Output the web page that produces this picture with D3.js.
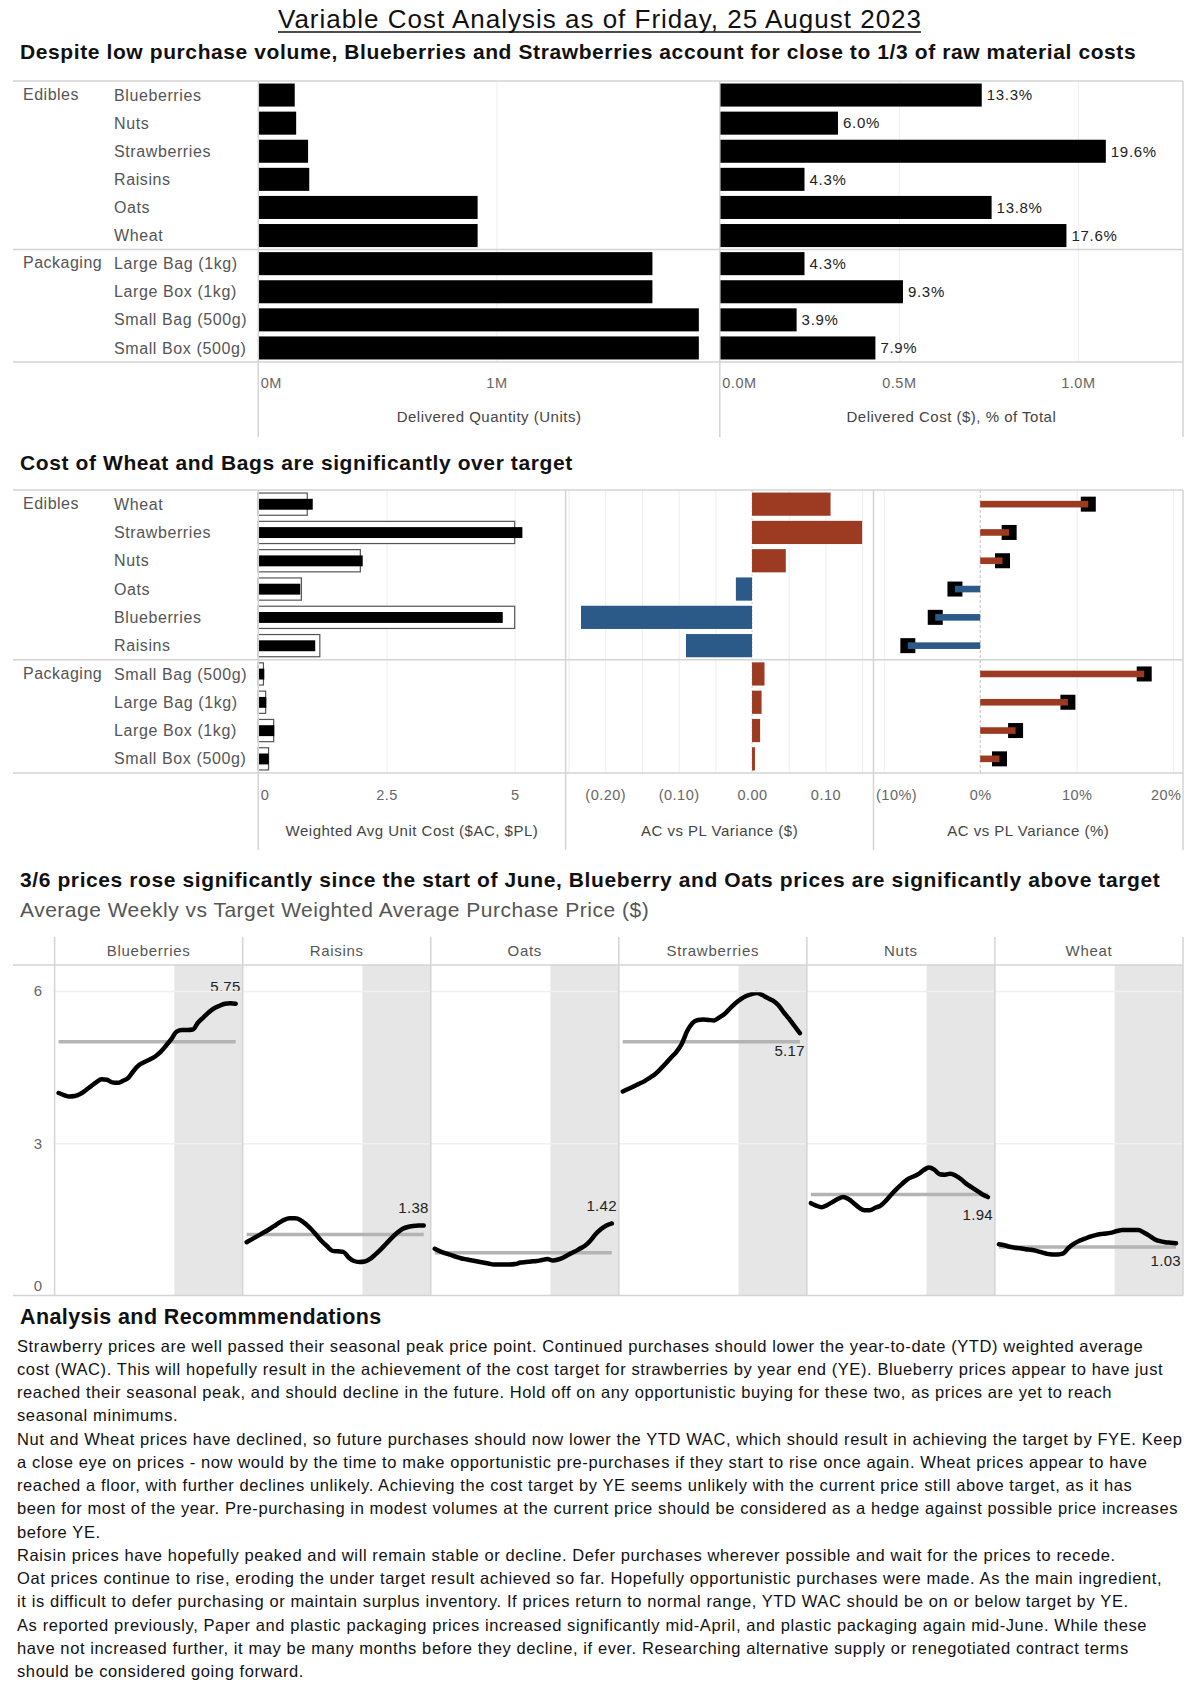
<!DOCTYPE html>
<html>
<head>
<meta charset="utf-8">
<script src="https://cdn.jsdelivr.net/npm/d3@7"></script>
<style>
  body { margin: 0; background: #fff; }
  text { font-family: "Liberation Sans", Arial, sans-serif; }
</style>
</head>
<body>
<div id="chart"></div>
<script>
// ---------------- data ----------------
var reportTitle = "Variable Cost Analysis as of Friday, 25 August 2023";

// section 1: delivered quantity and cost
var volItems = ["Blueberries", "Nuts", "Strawberries", "Raisins", "Oats", "Wheat",
                "Large Bag (1kg)", "Large Box (1kg)", "Small Bag (500g)", "Small Box (500g)"];
var volGroups = ["Edibles", "Edibles", "Edibles", "Edibles", "Edibles", "Edibles",
                 "Packaging", "Packaging", "Packaging", "Packaging"];
var deliveredQty = [153000, 159000, 209000, 214000, 921000, 921000, 1655000, 1655000, 1850000, 1850000];
var deliveredCost = [731500, 330000, 1078000, 236500, 759000, 968000, 236500, 511500, 214500, 434500];
var qtyTicks = [0, 1000000];
var costTicks = [0, 500000, 1000000];

// section 2: unit cost actual (AC) vs plan (PL)
var costItems = ["Wheat", "Strawberries", "Nuts", "Oats", "Blueberries", "Raisins",
                 "Small Bag (500g)", "Large Bag (1kg)", "Large Box (1kg)", "Small Box (500g)"];
var costGroups = ["Edibles", "Edibles", "Edibles", "Edibles", "Edibles", "Edibles",
                  "Packaging", "Packaging", "Packaging", "Packaging"];
var unitCostPL = [0.955, 5.00, 1.99, 0.84, 5.00, 1.20, 0.100, 0.143, 0.300, 0.200];
var unitCostAC = [1.062, 5.15, 2.036, 0.818, 4.767, 1.11, 0.117, 0.156, 0.311, 0.204];
var unitTicks = [0, 2.5, 5];
var varTicks = [-0.2, -0.1, 0, 0.1];
var varGrid = [-0.25, -0.2, -0.15, -0.1, -0.05, 0.05, 0.1, 0.15];
var pctTicks = [-0.1, 0, 0.1, 0.2];

// section 3: weekly average purchase price
var weekStarts = ["2023-01-01", "2023-01-08", "2023-01-15", "2023-01-22", "2023-01-29",
  "2023-02-05", "2023-02-12", "2023-02-19", "2023-02-26", "2023-03-05", "2023-03-12",
  "2023-03-19", "2023-03-26", "2023-04-02", "2023-04-09", "2023-04-16", "2023-04-23",
  "2023-04-30", "2023-05-07", "2023-05-14", "2023-05-21", "2023-05-28", "2023-06-04",
  "2023-06-11", "2023-06-18", "2023-06-25", "2023-07-02", "2023-07-09", "2023-07-16",
  "2023-07-23", "2023-07-30", "2023-08-06", "2023-08-13", "2023-08-20"];
var juneStart = "2023-06-01";
var priceItems = ["Blueberries", "Raisins", "Oats", "Strawberries", "Nuts", "Wheat"];
var blueberryPrice = [3.99, 3.95, 3.92, 3.93, 3.97, 4.04, 4.12, 4.20, 4.26, 4.25, 4.20, 4.19,
  4.23, 4.29, 4.43, 4.54, 4.60, 4.65, 4.71, 4.80, 4.92, 5.05, 5.20, 5.23, 5.23, 5.24, 5.38,
  5.48, 5.58, 5.66, 5.71, 5.75, 5.76, 5.75];
var raisinPrice = [1.05, 1.11, 1.17, 1.23, 1.29, 1.36, 1.43, 1.49, 1.52, 1.52, 1.49, 1.41,
  1.31, 1.19, 1.07, 0.97, 0.88, 0.87, 0.86, 0.75, 0.68, 0.66, 0.67, 0.72, 0.81, 0.91, 1.02,
  1.13, 1.23, 1.31, 1.35, 1.37, 1.38, 1.38];
var oatPrice = [0.92, 0.87, 0.83, 0.80, 0.76, 0.73, 0.71, 0.69, 0.67, 0.65, 0.63, 0.61, 0.61,
  0.61, 0.61, 0.62, 0.65, 0.66, 0.67, 0.68, 0.70, 0.72, 0.69, 0.71, 0.75, 0.81, 0.86, 0.92,
  0.98, 1.08, 1.21, 1.31, 1.38, 1.42];
var strawberryPrice = [4.02, 4.07, 4.12, 4.17, 4.22, 4.29, 4.36, 4.46, 4.57, 4.69, 4.80, 4.96,
  5.21, 5.37, 5.43, 5.44, 5.43, 5.42, 5.48, 5.55, 5.66, 5.76, 5.84, 5.90, 5.94, 5.96, 5.92,
  5.86, 5.81, 5.72, 5.58, 5.45, 5.31, 5.17];
var nutPrice = [1.82, 1.77, 1.74, 1.78, 1.84, 1.90, 1.94, 1.90, 1.82, 1.73, 1.68, 1.68, 1.73,
  1.77, 1.87, 1.99, 2.10, 2.20, 2.29, 2.34, 2.39, 2.47, 2.52, 2.48, 2.39, 2.38, 2.40, 2.36,
  2.29, 2.20, 2.13, 2.06, 1.99, 1.94];
var wheatPrice = [1.01, 0.99, 0.96, 0.94, 0.93, 0.91, 0.90, 0.88, 0.85, 0.82, 0.81, 0.81, 0.83,
  0.94, 1.02, 1.08, 1.12, 1.16, 1.19, 1.21, 1.22, 1.24, 1.27, 1.29, 1.29, 1.29, 1.29, 1.24,
  1.18, 1.11, 1.07, 1.05, 1.04, 1.03];
var priceSeries = [blueberryPrice, raisinPrice, oatPrice, strawberryPrice, nutPrice, wheatPrice];
var priceTicks = [0, 3, 6];

var notes = [
  "Strawberry prices are well passed their seasonal peak price point. Continued purchases should lower the year-to-date (YTD) weighted average",
  "cost (WAC). This will hopefully result in the achievement of the cost target for strawberries by year end (YE). Blueberry prices appear to have just",
  "reached their seasonal peak, and should decline in the future. Hold off on any opportunistic buying for these two, as prices are yet to reach",
  "seasonal minimums.",
  "Nut and Wheat prices have declined, so future purchases should now lower the YTD WAC, which should result in achieving the target by FYE. Keep",
  "a close eye on prices - now would by the time to make opportunistic pre-purchases if they start to rise once again. Wheat prices appear to have",
  "reached a floor, with further declines unlikely. Achieving the cost target by YE seems unlikely with the current price still above target, as it has",
  "been for most of the year. Pre-purchasing in modest volumes at the current price should be considered as a hedge against possible price increases",
  "before YE.",
  "Raisin prices have hopefully peaked and will remain stable or decline. Defer purchases wherever possible and wait for the prices to recede.",
  "Oat prices continue to rise, eroding the under target result achieved so far. Hopefully opportunistic purchases were made. As the main ingredient,",
  "it is difficult to defer purchasing or maintain surplus inventory. If prices return to normal range, YTD WAC should be on or below target by YE.",
  "As reported previously, Paper and plastic packaging prices increased significantly mid-April, and plastic packaging again mid-June. While these",
  "have not increased further, it may be many months before they decline, if ever. Researching alternative supply or renegotiated contract terms",
  "should be considered going forward."
];

// ---------------- setup ----------------
var W = 1200, H = 1698;
var left = 13, right = 1183;
var ruleC = "#d4d4d4", gridC = "#ededed", labelC = "#555", tickC = "#666";
var overC = "#9d3b22", underC = "#2c5a88";
var fontStack = '"Liberation Sans", Arial, sans-serif';

var svg = d3.select("#chart").append("svg")
    .attr("width", W)
    .attr("height", H);

function hline(g, y, x1, x2, c) {
  g.append("line").attr("x1", x1).attr("x2", x2).attr("y1", y).attr("y2", y)
    .attr("stroke", c || ruleC).attr("stroke-width", 1.5);
}
function vline(g, x, y1, y2, c) {
  g.append("line").attr("x1", x).attr("x2", x).attr("y1", y1).attr("y2", y2)
    .attr("stroke", c || ruleC).attr("stroke-width", 1.5);
}

// vertical gridlines through a panel
function gridlines(g, scale, ticks, y0, y1) {
  var ax = g.append("g").attr("transform", "translate(0," + y0 + ")")
    .call(d3.axisBottom(scale).tickValues(ticks).tickSize(y1 - y0).tickFormat(""));
  ax.select(".domain").remove();
  ax.selectAll("line").attr("stroke", gridC).attr("stroke-width", 1);
}

// tick labels, kept inside the panel like the original
function tickLabels(g, scale, ticks, fmt, y, x0, x1) {
  var ax = g.append("g").attr("transform", "translate(0," + y + ")")
    .call(d3.axisBottom(scale).tickValues(ticks).tickFormat(fmt).tickSize(0));
  ax.select(".domain").remove();
  ax.selectAll("text")
    .attr("y", 0).attr("dy", "0.35em")
    .attr("fill", tickC)
    .style("font-size", "14.5px")
    .style("letter-spacing", "0.5px")
    .style("font-family", fontStack);
  ax.selectAll(".tick").each(function(d) {
    var t = d3.select(this).select("text");
    var w = t.node().getComputedTextLength();
    var cx = scale(d);
    if (cx - w / 2 < x0 + 2) t.attr("text-anchor", "start").attr("x", x0 + 2 - cx);
    if (cx + w / 2 > x1 - 2) t.attr("text-anchor", "end").attr("x", x1 - 2 - cx);
  });
}

function rowLabels(g, items, groups, band) {
  g.selectAll(".item").data(items).join("text")
    .attr("x", 114)
    .attr("y", function(d, i) { return band(i) + band.bandwidth() / 2; })
    .attr("dy", "0.35em")
    .attr("fill", labelC)
    .style("font-size", "16px")
    .style("letter-spacing", "0.6px")
    .text(function(d) { return d; });
  g.selectAll(".grp").data(groups).join("text")
    .attr("x", 23)
    .attr("y", function(d, i) { return band(i) + band.bandwidth() / 2; })
    .attr("dy", "0.3em")
    .attr("fill", labelC)
    .style("font-size", "16px")
    .style("letter-spacing", "0.5px")
    .text(function(d, i) { return i === 0 || groups[i - 1] !== d ? d : ""; });
}

function axisTitle(g, text, x, y) {
  g.append("text").attr("x", x).attr("y", y).attr("dy", "0.35em")
    .attr("text-anchor", "middle").attr("fill", "#444")
    .style("font-size", "15px").style("letter-spacing", "0.5px")
    .text(text);
}

function sectionTitle(text, y, size, spacing) {
  svg.append("text").attr("x", 20).attr("y", y)
    .attr("fill", "#111")
    .style("font-size", (size || 21) + "px").style("font-weight", "bold")
    .style("letter-spacing", (spacing === undefined ? 0.6 : spacing) + "px")
    .text(text);
}

// ---------------- titles ----------------
var tt = svg.append("text")
  .attr("x", 600).attr("y", 28)
  .attr("text-anchor", "middle")
  .attr("fill", "#111")
  .style("font-size", "26px")
  .style("letter-spacing", "1px")
  .text(reportTitle);
var tb = tt.node().getBBox();
svg.append("line").attr("x1", tb.x).attr("x2", tb.x + tb.width - 1)
  .attr("y1", 32).attr("y2", 32).attr("stroke", "#111").attr("stroke-width", 1.5);

sectionTitle("Despite low purchase volume, Blueberries and Strawberries account for close to 1/3 of raw material costs", 59);

// ---------------- section 1 ----------------
var s1 = {top: 81, bottom: 362, axis: 437};
var rows1 = d3.scaleBand().domain(d3.range(volItems.length))
  .range([s1.top, s1.bottom]).paddingInner(0.18).paddingOuter(0.09);
var qtyX = d3.scaleLinear().domain([0, 1938000]).range([258.3, 719.8]);
var costX = d3.scaleLinear().domain([0, 1293500]).range([719.8, 1183]);
var totalCost = d3.sum(deliveredCost);

var g1 = svg.append("g");
gridlines(g1, qtyX, [1000000], s1.top, s1.bottom);
gridlines(g1, costX, [500000, 1000000], s1.top, s1.bottom);

g1.append("g").selectAll("rect").data(deliveredQty).join("rect")
  .attr("x", qtyX(0))
  .attr("y", function(d, i) { return rows1(i); })
  .attr("width", function(d) { return qtyX(d) - qtyX(0); })
  .attr("height", rows1.bandwidth())
  .attr("fill", "#000");

g1.append("g").selectAll("rect").data(deliveredCost).join("rect")
  .attr("x", costX(0))
  .attr("y", function(d, i) { return rows1(i); })
  .attr("width", function(d) { return costX(d) - costX(0); })
  .attr("height", rows1.bandwidth())
  .attr("fill", "#000");

g1.append("g").selectAll("text").data(deliveredCost).join("text")
  .attr("x", function(d) { return costX(d) + 5; })
  .attr("y", function(d, i) { return rows1(i) + rows1.bandwidth() / 2; })
  .attr("dy", "0.35em")
  .attr("fill", "#222")
  .style("font-size", "15px")
  .style("letter-spacing", "0.7px")
  .text(function(d) { return d3.format(".1%")(d / totalCost); });

rowLabels(g1, volItems, volGroups, rows1);

hline(g1, s1.top, left, right);
hline(g1, rows1(6) - rows1.step() * rows1.paddingInner() / 2, left, right);
hline(g1, s1.bottom, left, right);
[qtyX(0), costX(0), right].forEach(function(x) { vline(g1, x, s1.top, s1.axis); });

tickLabels(g1, qtyX, qtyTicks, function(d) { return d3.format(".0f")(d / 1e6) + "M"; }, 383, qtyX.range()[0], qtyX.range()[1]);
tickLabels(g1, costX, costTicks, function(d) { return d3.format(".1f")(d / 1e6) + "M"; }, 383, costX.range()[0], costX.range()[1]);
axisTitle(g1, "Delivered Quantity (Units)", (qtyX.range()[0] + qtyX.range()[1]) / 2, 417);
axisTitle(g1, "Delivered Cost ($), % of Total", (costX.range()[0] + costX.range()[1]) / 2, 417);

// ---------------- section 2 ----------------
sectionTitle("Cost of Wheat and Bags are significantly over target", 470);

var s2 = {top: 490, bottom: 773, axis: 850};
var rows2 = d3.scaleBand().domain(d3.range(costItems.length))
  .range([s2.top, s2.bottom]).paddingInner(0.18).paddingOuter(0.09);
var unitX = d3.scaleLinear().domain([0, 5.993]).range([258.3, 565.6]);
var varX = d3.scaleLinear().domain([-0.254, 0.1655]).range([565.6, 873.5]);
var pctX = d3.scaleLinear().domain([-0.1106, 0.2102]).range([873.5, 1183]);

var varAbs = unitCostAC.map(function(d, i) { return d - unitCostPL[i]; });
var varPct = varAbs.map(function(d, i) { return d / unitCostPL[i]; });

var g2 = svg.append("g");
gridlines(g2, unitX, [2.5, 5], s2.top, s2.bottom);
gridlines(g2, varX, varGrid, s2.top, s2.bottom);
gridlines(g2, pctX, [-0.1, 0.1, 0.2], s2.top, s2.bottom);

// zero reference lines
g2.append("line").attr("x1", varX(0)).attr("x2", varX(0)).attr("y1", s2.top).attr("y2", s2.bottom)
  .attr("stroke", "#cfcfcf").attr("stroke-dasharray", "2,2");
g2.append("line").attr("x1", pctX(0)).attr("x2", pctX(0)).attr("y1", s2.top).attr("y2", s2.bottom)
  .attr("stroke", "#bdbdbd").attr("stroke-dasharray", "3,2");

// plan (outline) and actual (black) unit cost
var bw2 = rows2.bandwidth();
g2.append("g").selectAll("rect").data(unitCostPL).join("rect")
  .attr("x", unitX(0))
  .attr("y", function(d, i) { return rows2(i) + 0.5; })
  .attr("width", function(d) { return unitX(d) - unitX(0); })
  .attr("height", bw2 - 1)
  .attr("fill", "#fff")
  .attr("stroke", "#555")
  .attr("stroke-width", 1.2);
g2.append("g").selectAll("rect").data(unitCostAC).join("rect")
  .attr("x", unitX(0))
  .attr("y", function(d, i) { return rows2(i) + bw2 * 0.27; })
  .attr("width", function(d) { return unitX(d) - unitX(0); })
  .attr("height", bw2 * 0.47)
  .attr("fill", "#000");

// variance in $
g2.append("g").selectAll("rect").data(varAbs).join("rect")
  .attr("x", function(d) { return varX(Math.min(0, d)); })
  .attr("y", function(d, i) { return rows2(i); })
  .attr("width", function(d) { return Math.abs(varX(d) - varX(0)); })
  .attr("height", bw2)
  .attr("fill", function(d) { return d > 0 ? overC : underC; });

// variance in % : marker + bar
g2.append("g").selectAll("rect").data(varPct).join("rect")
  .attr("x", function(d) { return pctX(d) - 7.5; })
  .attr("y", function(d, i) { return rows2(i) + bw2 / 2 - 7.5; })
  .attr("width", 15).attr("height", 15)
  .attr("fill", "#000");
g2.append("g").selectAll("rect").data(varPct).join("rect")
  .attr("x", function(d) { return pctX(Math.min(0, d)); })
  .attr("y", function(d, i) { return rows2(i) + bw2 / 2 - 3.3; })
  .attr("width", function(d) { return Math.abs(pctX(d) - pctX(0)); })
  .attr("height", 6.6)
  .attr("fill", function(d) { return d > 0 ? overC : underC; });

rowLabels(g2, costItems, costGroups, rows2);

hline(g2, s2.top, left, right);
hline(g2, rows2(6) - rows2.step() * rows2.paddingInner() / 2, left, right);
hline(g2, s2.bottom, left, right);
[unitX(0), varX.range()[0], pctX.range()[0], right].forEach(function(x) { vline(g2, x, s2.top, s2.axis); });

tickLabels(g2, unitX, unitTicks, d3.format("~g"), 795, unitX.range()[0], unitX.range()[1]);
tickLabels(g2, varX, varTicks, d3.format("(.2f"), 795, varX.range()[0], varX.range()[1]);
tickLabels(g2, pctX, pctTicks, d3.format("(.0%"), 795, pctX.range()[0], pctX.range()[1]);
axisTitle(g2, "Weighted Avg Unit Cost ($AC, $PL)", (unitX.range()[0] + unitX.range()[1]) / 2, 831);
axisTitle(g2, "AC vs PL Variance ($)", (varX.range()[0] + varX.range()[1]) / 2, 831);
axisTitle(g2, "AC vs PL Variance (%)", (pctX.range()[0] + pctX.range()[1]) / 2, 831);

// ---------------- section 3 ----------------
sectionTitle("3/6 prices rose significantly since the start of June, Blueberry and Oats prices are significantly above target", 887);
svg.append("text").attr("x", 20).attr("y", 917)
  .attr("fill", "#555")
  .style("font-size", "21px")
  .style("letter-spacing", "0.5px")
  .text("Average Weekly vs Target Weighted Average Purchase Price ($)");

var s3 = {top: 937, head: 965, bottom: 1295.5, x0: 54.6, x1: 1183};
var parseDay = d3.timeParse("%Y-%m-%d");
var weeks = weekStarts.map(parseDay);
var colX = d3.scaleBand().domain(priceItems).range([s3.x0, s3.x1]);
var colW = colX.bandwidth();
var yP = d3.scaleLinear().domain([0, 6]).range([s3.bottom, 991]);
var xT = d3.scaleTime().domain([weeks[0], weeks[weeks.length - 1]]).range([4, colW - 7]);

var g3 = svg.append("g");

var cols = g3.selectAll(".col").data(priceItems).join("g")
  .attr("transform", function(d) { return "translate(" + colX(d) + ",0)"; });

// June onwards shading
cols.append("rect")
  .attr("x", xT(parseDay(juneStart)))
  .attr("y", s3.head)
  .attr("width", colW - xT(parseDay(juneStart)))
  .attr("height", s3.bottom - s3.head)
  .attr("fill", "#e6e6e6");

// horizontal gridlines
var yg = g3.append("g").attr("transform", "translate(" + s3.x0 + ",0)")
  .call(d3.axisLeft(yP).tickValues([3, 6]).tickSize(-(s3.x1 - s3.x0)).tickFormat(""));
yg.select(".domain").remove();
yg.selectAll("line").attr("stroke", "#f0f0f0").attr("stroke-width", 1.5);

// target lines (plan price)
cols.append("line")
  .attr("x1", xT(weeks[0]))
  .attr("x2", xT(weeks[weeks.length - 1]))
  .attr("y1", function(d) { return yP(unitCostPL[costItems.indexOf(d)]); })
  .attr("y2", function(d) { return yP(unitCostPL[costItems.indexOf(d)]); })
  .attr("stroke", "#b4b4b4")
  .attr("stroke-width", 3.5);

var priceLine = d3.line()
  .x(function(d, i) { return xT(weeks[i]); })
  .y(function(d) { return yP(d); })
  .curve(d3.curveMonotoneX);

cols.append("path")
  .attr("d", function(d, i) { return priceLine(priceSeries[i]); })
  .attr("fill", "none")
  .attr("stroke", "#000")
  .attr("stroke-width", 4.5)
  .attr("stroke-linejoin", "round")
  .attr("stroke-linecap", "round");

// last value labels
cols.append("text")
  .attr("x", xT(weeks[weeks.length - 1]) + 5)
  .attr("y", function(d, i) {
    var s = priceSeries[i], last = s[s.length - 1];
    return last >= s[s.length - 4] ? yP(last) - 12 : yP(last) + 23;
  })
  .attr("text-anchor", "end")
  .attr("fill", "#222")
  .style("font-size", "15px")
  .style("letter-spacing", "0.3px")
  .text(function(d, i) { return d3.format(".2f")(priceSeries[i][priceSeries[i].length - 1]); });

// headers
cols.append("text")
  .attr("x", colW / 2).attr("y", (s3.top + s3.head) / 2)
  .attr("dy", "0.35em")
  .attr("text-anchor", "middle")
  .attr("fill", labelC)
  .style("font-size", "15px")
  .style("letter-spacing", "0.7px")
  .text(function(d) { return d; });

priceItems.forEach(function(d) { vline(g3, colX(d), s3.top, s3.bottom); });
vline(g3, s3.x1, s3.top, s3.bottom);
hline(g3, s3.head, left, right);
hline(g3, s3.bottom, left, right);

var ya = g3.append("g").attr("transform", "translate(42,0)")
  .call(d3.axisLeft(yP).tickValues(priceTicks).tickFormat(d3.format("d")).tickSize(0));
ya.select(".domain").remove();
ya.selectAll("text")
  .attr("x", 0)
  .attr("fill", tickC)
  .style("font-size", "15px")
  .style("font-family", fontStack)
  .attr("y", function(d) { return d === 0 ? -10 : 0; });

// ---------------- notes ----------------
sectionTitle("Analysis and Recommmendations", 1324, 21.5, 0.4);
svg.append("g").selectAll("text").data(notes).join("text")
  .attr("x", 17)
  .attr("y", function(d, i) { return 1351.5 + i * 23.25; })
  .attr("fill", "#111")
  .style("font-size", "16.5px")
  .style("letter-spacing", "0.6px")
  .text(function(d) { return d; });
</script>
</body>
</html>
